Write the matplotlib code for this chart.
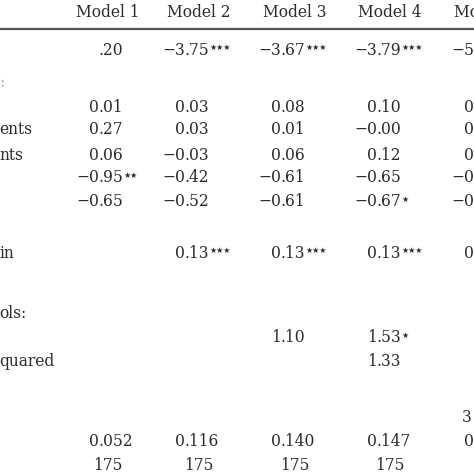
import matplotlib
matplotlib.use("Agg")
import matplotlib.pyplot as plt

headers = ["Model 1", "Model 2", "Model 3", "Model 4", "Model 5"]
header_x = [108, 199, 295, 390, 486]
dec_x = [99, 185, 281, 377, 474]   # decimal alignment per column

# row labels (visible fragments), row y positions
row_labels = ["", ":", "", "ents", "nts", "", "", "in", "ols:", "", "quared", "", "", ""]
row_y = [50, 82, 107, 130, 155, 178, 202, 253, 314, 338, 362, 418, 442, 465]
cells = [
    [".20", "\u22123.75***", "\u22123.67***", "\u22123.79***", "\u22125"],
    ["", "", "", "", ""],
    ["0.01", "0.03", "0.08", "0.10", "0"],
    ["0.27", "0.03", "0.01", "\u22120.00", "0"],
    ["0.06", "\u22120.03", "0.06", "0.12", "0"],
    ["\u22120.95**", "\u22120.42", "\u22120.61", "\u22120.65", "\u22120"],
    ["\u22120.65", "\u22120.52", "\u22120.61", "\u22120.67*", "\u22120"],
    ["", "0.13***", "0.13***", "0.13***", "0"],
    ["", "", "", "", ""],
    ["", "", "1.10", "1.53*", ""],
    ["", "", "", "1.33", ""],
    ["", "", "", "", "3"],
    ["0.052", "0.116", "0.140", "0.147", "0"],
    ["175", "175", "175", "175", ""],
]

fig = plt.figure(figsize=(4.74, 4.74), dpi=100)
ax = fig.add_axes([0, 0, 1, 1])
ax.set_xlim(0, 474)
ax.set_ylim(474, 0)
ax.axis("off")
fam = "DejaVu Serif"
fs = 11.2
col = "#2b2b2b"

for h, x in zip(headers, header_x):
    ax.text(x, 12, h, ha="center", va="center", family=fam, fontsize=fs, color=col)
ax.plot([0, 474], [29, 29], color="#555555", lw=1.6)

for lab, y in zip(row_labels, row_y):
    if lab:
        c = "#aaaaaa" if lab == ":" else col
        ax.text(-1, y, lab, ha="left", va="center", family=fam, fontsize=fs, color=c)

for row, y in zip(cells, row_y):
    for j, v in enumerate(row):
        if not v:
            continue
        if v.startswith("175"):
            ax.text(header_x[j], y, v, ha="center", va="center", family=fam, fontsize=fs, color=col)
            continue
        if v == "3":
            ax.text(462, y, v, ha="left", va="center", family=fam, fontsize=fs, color=col)
            continue
        if "." in v:
            ip, rest = v.split(".", 1)
        else:
            ip, rest = v, None
        stars = ""
        if rest is not None:
            stars = rest[len(rest.rstrip("*")):]
            rest = rest.rstrip("*")
        ax.text(dec_x[j], y, ip, ha="right", va="center", family=fam, fontsize=fs, color=col)
        if rest is not None:
            t = ax.text(dec_x[j], y, "." + rest, ha="left", va="center", family=fam, fontsize=fs, color=col)
            if stars:
                ax.annotate("\u2605" * len(stars), xy=(1, 1), xycoords=t,
                            xytext=(0, -1), textcoords="offset points", ha="left", va="top",
                            family="DejaVu Sans", fontsize=5.8, color=col)

fig.savefig("out.png", dpi=100)
